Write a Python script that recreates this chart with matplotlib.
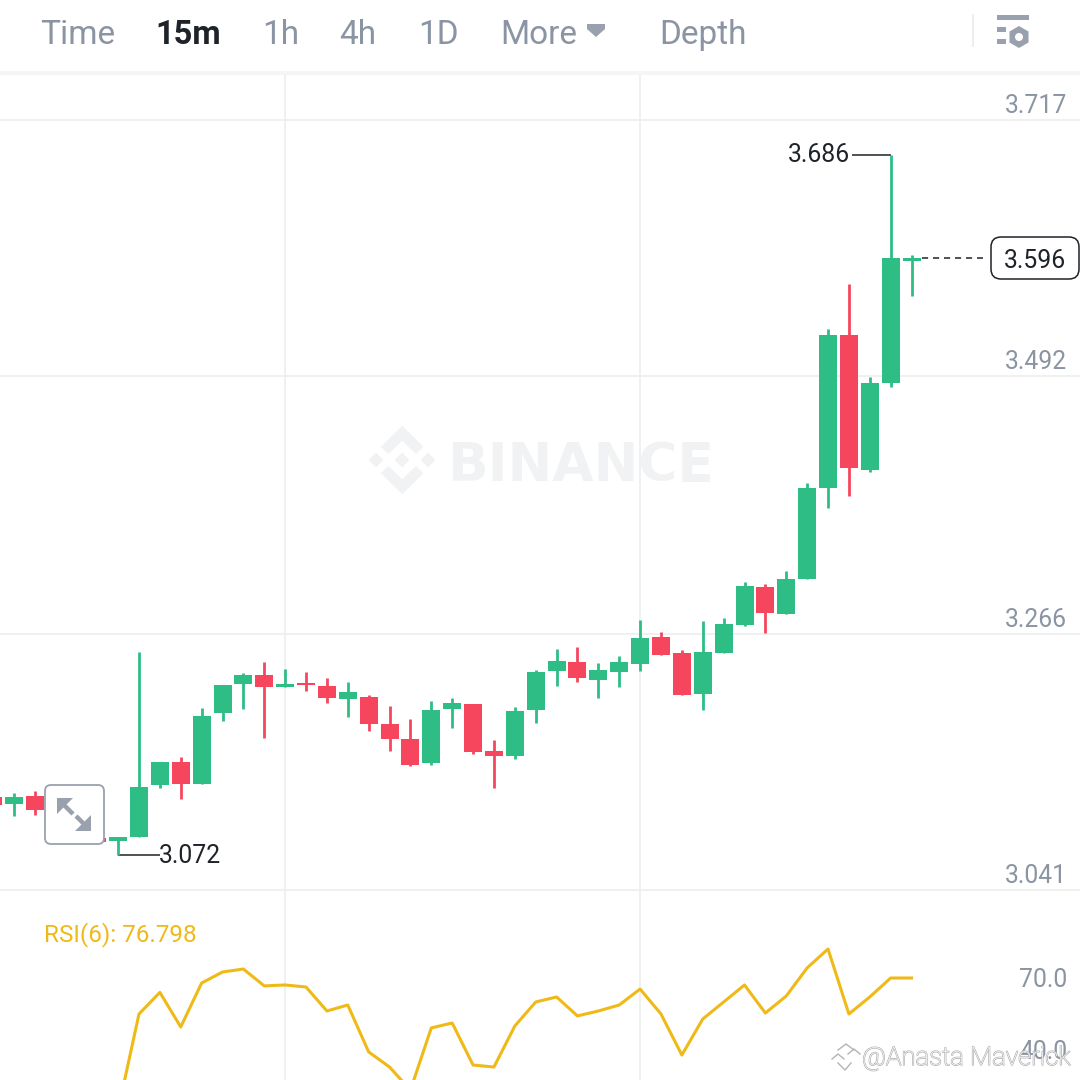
import matplotlib
matplotlib.use("Agg")
import matplotlib.pyplot as plt  # noqa: E402
import matplotlib.patheffects as pe  # noqa: E402
from matplotlib.patches import Circle, FancyBboxPatch, Polygon, Rectangle  # noqa: E402
import numpy as np  # noqa: E402

GREEN = "#2EBD85"
RED = "#F6465D"
GREY = "#8A94A3"
DARK = "#1E2329"
GRID = "#EEEEEE"
ICON = "#9AA1AE"
YELLOW = "#EFBA17"
FONT = "Roboto"

# 15m candles, first one is cut off by the left edge, two are behind the button
first_index = -1
opens = [3.1227, 3.1165, 3.1235, 3.110, 3.100, 3.0867, 3.0840, 3.0875, 3.1332, 3.1534, 3.1341, 3.1964,
         3.2219, 3.2298, 3.2192, 3.2227, 3.2201, 3.2087, 3.2105, 3.1867, 3.1736, 3.1525, 3.1999, 3.2043,
         3.1630, 3.1587, 3.1990, 3.2333, 3.2412, 3.2254, 3.2324, 3.2394, 3.2631, 3.2491, 3.2131, 3.2491,
         3.2737, 3.3070, 3.2833, 3.3141, 3.3940, 3.5283, 3.4098, 3.4861, 3.5932]
closes = [3.1156, 3.1227, 3.1112, 3.100, 3.090, 3.0831, 3.0875, 3.1314, 3.1534, 3.1341, 3.1938, 3.2210,
          3.2298, 3.2192, 3.2219, 3.2210, 3.2096, 3.2148, 3.1867, 3.1736, 3.1508, 3.1990, 3.2052, 3.1622,
          3.1587, 3.1982, 3.2324, 3.2421, 3.2271, 3.2342, 3.2412, 3.2623, 3.2473, 3.2122, 3.2500, 3.2745,
          3.3079, 3.2842, 3.3141, 3.3940, 3.5283, 3.4115, 3.4861, 3.5959, 3.5960]
highs = [3.1262, 3.1262, 3.1279, 3.113, 3.102, 3.0867, 3.0875, 3.2500, 3.1534, 3.1578, 3.2008, 3.2210,
         3.2315, 3.2412, 3.2350, 3.2324, 3.2271, 3.2236, 3.2122, 3.2026, 3.1911, 3.2069, 3.2096, 3.2043,
         3.1727, 3.2017, 3.2342, 3.2526, 3.2544, 3.2403, 3.2465, 3.2781, 3.2675, 3.2517, 3.2772, 3.2798,
         3.3114, 3.3097, 3.3211, 3.3983, 3.5336, 3.5731, 3.4914, 3.6860, 3.5985]
lows = [3.1095, 3.1060, 3.1069, 3.097, 3.087, 3.0831, 3.0720, 3.0875, 3.1306, 3.1209, 3.1341, 3.1894,
        3.1999, 3.1745, 3.2192, 3.2157, 3.2052, 3.1929, 3.1806, 3.1630, 3.1499, 3.1508, 3.1832, 3.1604,
        3.1306, 3.1560, 3.1876, 3.2201, 3.2236, 3.2096, 3.2192, 3.2333, 3.2473, 3.2122, 3.1990, 3.2491,
        3.2728, 3.2666, 3.2833, 3.3141, 3.3764, 3.3869, 3.4080, 3.4826, 3.5625]

price_ticks = [3.041, 3.266, 3.492, 3.717]
price_labels = ["3.041", "3.266", "3.492", "3.717"]
last_price = 3.596
high_price = 3.686
low_price = 3.072

# RSI(6) starts at candle 5
rsi_first_index = 5
rsi = [15, 55, 64, 49.6, 67.9, 72.5, 73.75, 66.7, 67.1, 66.25, 56.25, 58.75, 39.2, 32.9, 23.3, 49.2,
       51.25, 33.75, 32.9, 50, 60, 62.1, 54.2, 56.25, 58.75, 65.4, 55, 37.9, 52.9, 60, 67.1, 55.4,
       62.5, 74.2, 82.1, 55, 62.1, 70, 70]
rsi_ticks = [70, 40]
rsi_labels = ["70.0", "40.0"]
vgrid_index = [13, 30]

tabs = ["Time", "15m", "1h", "4h", "1D", "More", "Depth"]
tab_x = [40, 155.5, 262, 339, 418, 500, 659]

W = 1080
fig = plt.figure(figsize=(10.8, 10.8), dpi=100, facecolor="white")


def axes_px(top, bottom):
    return fig.add_axes([0, 1 - bottom / W, 1, (bottom - top) / W])


ax = axes_px(73, 890)
ax_rsi = axes_px(890, 1080)
ui = fig.add_axes([0, 0, 1, 1], zorder=5)
for a in (ax, ax_rsi, ui):
    a.set_facecolor("none")
    for s in a.spines.values():
        s.set_visible(False)
    a.tick_params(left=False, bottom=False, labelleft=False, labelbottom=False)

xlim = (-13.7 / 20.88, (W - 13.7) / 20.88)
ax.set_xlim(xlim)
ax.set_ylim(3.041, 3.7583)
ax_rsi.set_xlim(xlim)
ax_rsi.set_ylim(27.5, 106.67)
ui.set_xlim(0, W)
ui.set_ylim(W, 0)

# watermark sits under the candles
ui_back = fig.add_axes([0, 0, 1, 1], zorder=-1)
ui_back.set_xlim(0, W)
ui_back.set_ylim(W, 0)
ui_back.axis("off")
wm = "#F1F2F3"
ui_back.add_patch(Polygon([(402.3, 425.7), (423.3, 446.7), (416, 454), (402.3, 440.7), (388.3, 454), (380.7, 446.7)], fc=wm))
ui_back.add_patch(Polygon([(402.3, 494.3), (423.3, 473.3), (416, 466), (402.3, 479.3), (388.3, 466), (380.7, 473.3)], fc=wm))
for cx, r in ((376, 7.5), (402, 7.5), (428, 7.5)):
    ui_back.add_patch(Polygon([(cx - r, 460), (cx, 460 - r), (cx + r, 460), (cx, 460 + r)], fc=wm))
ui_back.text(581, 466, "BINANCE", fontsize=38.5, fontweight="bold", family="DejaVu Sans", color=wm, ha="center",
             va="center")

# grid
ax.hlines(price_ticks, *xlim, color=GRID, lw=1.2, clip_on=False, zorder=0)
ax.vlines(vgrid_index, 3.041, 3.7583, color=GRID, lw=1.2, zorder=0)
ax_rsi.vlines(vgrid_index, 27.5, 106.67, color=GRID, lw=1.2, zorder=0)

# candles
idx = np.arange(len(opens)) + first_index
opens_a, closes_a = np.array(opens), np.array(closes)
colors = [GREEN if c >= o else RED for o, c in zip(opens, closes)]
ax.vlines(idx, lows, highs, colors=colors, lw=2.0, zorder=2)
ax.bar(idx, np.abs(closes_a - opens_a), bottom=np.minimum(opens_a, closes_a), width=18 / 20.88,
       color=colors, zorder=3)

# high / low / last markers
ax.hlines(high_price, 40.15, 42, color=DARK, lw=1.1, zorder=1)
ax.hlines(low_price, 5, 7, color=DARK, lw=1.1, zorder=1)
ax.hlines(last_price, 43.5, 46.4, color=DARK, lw=1.1, linestyles=(0, (4, 3.2)), zorder=1)
ax.text(40.07, high_price, "3.686", fontsize=17.8, family=FONT, color=DARK, ha="right", va="center")
ax.text(6.97, low_price - 0.001, "3.072", fontsize=17.8, family=FONT, color=DARK, ha="left", va="center")

# axis labels sit inside the plot
for p, lab in zip(price_ticks, price_labels):
    ax.annotate(lab, (1067 / W, p), xycoords=("figure fraction", "data"), xytext=(0, 10),
                textcoords="offset points", fontsize=17.8, family=FONT, color=GREY, ha="right", va="center")
for p, lab in zip(rsi_ticks, rsi_labels):
    ax_rsi.annotate(lab, (1067 / W, p), xycoords=("figure fraction", "data"), xytext=(0, -1.4),
                    textcoords="offset points", fontsize=17.8, family=FONT, color=GREY, ha="right", va="center")

# RSI
ax_rsi.plot(np.arange(len(rsi)) + rsi_first_index, rsi, color=YELLOW, lw=2.2, solid_joinstyle="round", zorder=2)
ax_rsi.text(44 / W, 0.765, "RSI(6): 76.798", transform=ax_rsi.transAxes, fontsize=17.5, family=FONT,
            color=YELLOW, ha="left", va="center")

# top bar
ui.add_patch(Rectangle((0, 71), W, 4, fc="#F5F5F5", ec="none"))
for t, x in zip(tabs, tab_x):
    active = t == "15m"
    ui.text(x, 35, t, fontsize=23.5 if active else 24, family=FONT, fontweight="bold" if active else "normal",
            color=DARK if active else GREY, ha="left", va="center")
ui.add_patch(Polygon([(587, 24), (605, 24), (605, 29), (596, 37), (587, 29)], fc=ICON))
ui.add_patch(Rectangle((972, 14), 2, 33, fc=GRID))
ui.add_patch(Rectangle((997, 15), 32, 5, fc=ICON))
ui.add_patch(Rectangle((997, 27), 9, 5, fc=ICON))
ui.add_patch(Rectangle((997, 39), 9, 5, fc=ICON))
hex_ang = np.radians(np.arange(30, 390, 60))
ui.add_patch(Polygon(np.c_[1019 + 11 * np.cos(hex_ang), 37 + 11 * np.sin(hex_ang)], fc=ICON))
ui.add_patch(Circle((1019, 37), 4, fc="white"))

# last price box
ui.add_patch(FancyBboxPatch((1001, 247), 68, 22, boxstyle="round,pad=10", fc="white", ec=DARK, lw=1.1))
ui.text(1035, 261, "3.596", fontsize=17.8, family=FONT, color=DARK, ha="center", va="center")

# expand button
ui.add_patch(FancyBboxPatch((51, 791), 47, 47, boxstyle="round,pad=6", fc="white", ec=ICON, lw=1.3))
ui.add_patch(Polygon([(57, 798), (73, 798), (57, 814)], fc=ICON))
ui.add_patch(Polygon([(91, 831), (75, 831), (91, 815)], fc=ICON))
ui.plot([63, 73], [804, 814], color=ICON, lw=3.2, solid_capstyle="butt")
ui.plot([76, 85], [816, 825], color=ICON, lw=3.2, solid_capstyle="butt")

# repost watermark
ui.text(862, 1058, "@Anasta Maverick", fontsize=18.6, family=FONT, fontweight="light", color="white", ha="left",
        va="center", path_effects=[pe.withStroke(linewidth=1.0, foreground="#B4B4B4")])
for xs, ys in (([832, 838, 844], [1059, 1054, 1059]), ([838, 846, 854], [1050, 1044, 1050]),
               ([848, 854, 860], [1054, 1049, 1054]), ([838, 845, 851], [1063, 1070, 1063])):
    ui.plot(xs, ys, color="#B4B4B4", lw=1.0)

fig.savefig("out.png", dpi=100, facecolor="white")
plt.close(fig)
